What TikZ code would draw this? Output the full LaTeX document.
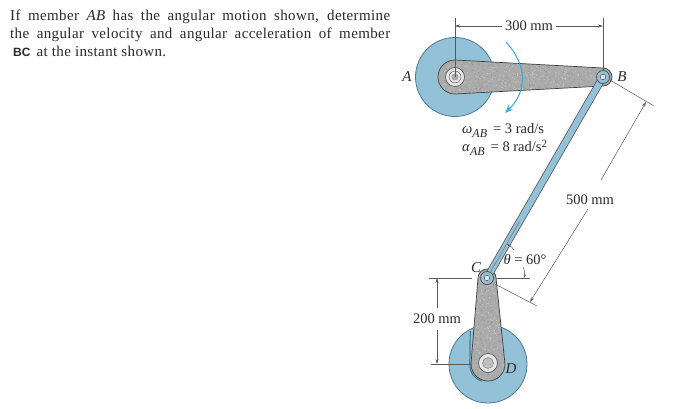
\documentclass[tikz,border=0pt]{standalone}
\usepackage{fontspec}
\setmainfont{Liberation Serif}
\newfontfamily\bcfont{Liberation Sans}
\newfontfamily\wideserif[LetterSpace=2.5]{Liberation Serif}
\usetikzlibrary{arrows.meta,calc}
\definecolor{diskblue}{HTML}{93C1D7}
\definecolor{diskedge}{HTML}{4A7C96}
\definecolor{armgray}{HTML}{ABABAB}
\definecolor{spin}{HTML}{35AEDB}
\definecolor{txt}{HTML}{2A2A2A}
\tikzset{
  disk/.style={fill=diskblue,draw=diskedge,line width=0.8pt},
  arm/.style={fill=armgray,draw=black!75,line width=0.7pt},
  dimline/.style={draw=black!65,line width=0.5pt},
  lab/.style={inner sep=0pt,text=txt,font=\fontsize{14.5}{17}\selectfont},
  para/.style={inner sep=0pt,anchor=base west,text=txt,font=\fontsize{15}{18}\wideserif\selectfont},
  pinring/.style={fill=black!10,draw=black!70,line width=0.6pt}
}
\newcommand{\subAB}{\raisebox{-4pt}{\fontsize{12}{12}\selectfont\itshape AB}}
\begin{document}
\begin{tikzpicture}[x=1pt,y=-1pt]
\useasboundingbox (0,0) rectangle (674,409);
\fill[white] (0,0) rectangle (674,409);
% paragraph
\node[para] (l1) at (10,21) {\makebox[380pt][s]{If member {\itshape AB} has the angular motion shown, determine}};
\node[para] (l2) at (10,39) {\makebox[380pt][s]{the angular velocity and angular acceleration of member}};
\node[para] (l3) at (13,57) {{\bcfont\bfseries\fontsize{12}{14}\selectfont BC}\hspace{6pt}at the instant shown.};
% disks
\node[circle,disk,minimum size=79pt,inner sep=0pt] (diskA) at (455,77) {};
\node[circle,disk,minimum size=78pt,inner sep=0pt] (diskD) at (488,364) {};
\draw[diskedge,line width=1.2pt] (470.2,331) -- (469.8,364) .. controls (469.8,372) and (474,379) .. (482,381);
% arm AB
\begin{scope}
\path[arm,draw=none] (455,60) arc[start angle=90,delta angle=180,radius=17pt] -- (603,86) arc[start angle=-90,delta angle=180,radius=9pt] -- cycle;
\clip (455,60) arc[start angle=90,delta angle=180,radius=17pt] -- (603,86) arc[start angle=-90,delta angle=180,radius=9pt] -- cycle;
\pgfmathsetseed{7}
\foreach \i in {1,...,500}{
  \pgfmathsetmacro{\px}{435+rnd*180}\pgfmathsetmacro{\py}{58+rnd*38}
  \fill[black!42] (\px,\py) circle[radius=0.5pt];
  \pgfmathsetmacro{\qx}{435+rnd*180}\pgfmathsetmacro{\qy}{58+rnd*38}
  \fill[black!20] (\qx,\qy) circle[radius=0.5pt];
}
\end{scope}
\draw[arm,fill=none] (455,60) arc[start angle=90,delta angle=180,radius=17pt] -- (603,86) arc[start angle=-90,delta angle=180,radius=9pt] -- cycle;
% arm CD
\begin{scope}
\path[arm,draw=none] (478,278) -- (471,364) arc[start angle=180,delta angle=180,radius=17pt] -- (496,278) arc[start angle=0,delta angle=180,radius=9pt] -- cycle;
\clip (478,278) -- (471,364) arc[start angle=180,delta angle=180,radius=17pt] -- (496,278) arc[start angle=0,delta angle=180,radius=9pt] -- cycle;
\pgfmathsetseed{11}
\foreach \i in {1,...,350}{
  \pgfmathsetmacro{\px}{468+rnd*40}\pgfmathsetmacro{\py}{268+rnd*116}
  \fill[black!42] (\px,\py) circle[radius=0.5pt];
  \pgfmathsetmacro{\qx}{468+rnd*40}\pgfmathsetmacro{\qy}{268+rnd*116}
  \fill[black!20] (\qx,\qy) circle[radius=0.5pt];
}
\end{scope}
\draw[arm,fill=none] (478,278) -- (471,364) arc[start angle=180,delta angle=180,radius=17pt] -- (496,278) arc[start angle=0,delta angle=180,radius=9pt] -- cycle;
% pins at A and D
\node[circle,pinring,minimum size=19pt,inner sep=0pt] (pinA) at (455,77) {};
\node[circle,fill=black!10,draw=black!70,minimum size=12pt,inner sep=0pt] (pinAi) at (455,77) {};
\node[circle,fill=black!35,minimum size=7pt,inner sep=0pt] (pinAc) at (455,77) {};
\node[circle,pinring,minimum size=19pt,inner sep=0pt] (pinD) at (488,363) {};
\node[circle,fill=black!25,draw=black!55,minimum size=11pt,inner sep=0pt] (pinDi) at (488,363) {};
% link BC
\coordinate (B) at (603,77);
\coordinate (C) at (487,278);
\draw[line width=7.6pt,draw=black!65] (B) -- (C);
\draw[line width=6pt,draw=diskblue] (B) -- (C);
\draw[line width=0.5pt,draw=black!55] ($(B)!0.72!(C)$) -- ($(B)!0.97!(C)$);
\node[circle,fill=diskblue,draw=black!70,line width=0.7pt,minimum size=13pt,inner sep=0pt] (pinB) at (B) {};
\node[circle,fill=black!10,draw=black!75,minimum size=5.5pt,inner sep=0pt] (pinBi) at (B) {};
\node[circle,fill=diskblue,draw=black!70,line width=0.7pt,minimum size=13pt,inner sep=0pt] (pinC) at (C) {};
\node[circle,fill=black!10,draw=black!75,minimum size=5.5pt,inner sep=0pt] (pinCi) at (C) {};
% spin arrow
\coordinate (s1) at (506,42);
\coordinate (s2) at (505,113);
\draw[draw=spin,line width=1pt,-{Stealth[length=8pt,width=6pt]}] (s1) .. controls (528,66) and (527,92) .. (s2);
% 300 mm
\coordinate (a1) at (455,18);\coordinate (a2) at (455,77);
\coordinate (b1) at (603,18);\coordinate (b2) at (603,70);
\draw[dimline] (a1) -- (a2);
\draw[dimline] (b1) -- (b2);
\node[lab,inner xsep=3pt] (d300) at (529,26) {300 mm};
\coordinate (a3) at (455,26);\coordinate (b3) at (603,26);
\draw[dimline,{Stealth[length=5pt,width=3pt]}-] (a3) -- (d300.west);
\draw[dimline,{Stealth[length=5pt,width=3pt]}-] (b3) -- (d300.east);
% 500 mm
\coordinate (e1) at (610,80);\coordinate (e2) at (654,106);
\coordinate (e3) at (495,284);\coordinate (e4) at (537,306);
\draw[dimline] (e1) -- (e2);
\draw[dimline] (e3) -- (e4);
\node[lab] (d500) at (590,200) {500 mm};
\coordinate (f1) at (646,102);\coordinate (f2) at (530,302);
\coordinate (f3) at (601,180);\coordinate (f4) at (588,209);
\draw[dimline,{Stealth[length=5pt,width=3pt]}-] (f1) -- (f3);
\draw[dimline,{Stealth[length=5pt,width=3pt]}-] (f2) -- (f4);
% 200 mm
\coordinate (g1) at (429,278);\coordinate (g2) at (472,278);
\coordinate (h1) at (431,364);\coordinate (h2) at (472,364);
\draw[dimline] (g1) -- (g2);
\draw[dimline] (h1) -- (h2);
\node[lab,inner ysep=6pt] (d200) at (437,319) {200 mm};
\coordinate (g3) at (437,278);\coordinate (h3) at (437,364);
\draw[dimline,{Stealth[length=5pt,width=3pt]}-] (g3) -- (d200.north -| g3);
\draw[dimline,{Stealth[length=5pt,width=3pt]}-] (h3) -- (d200.south -| h3);
% theta
\coordinate (t1) at (496,278);\coordinate (t2) at (530,278);
\draw[dimline] (t1) -- (t2);
\coordinate (t3) at (523,267);\coordinate (t4) at (524,278);
\coordinate (t5) at (514,250);\coordinate (t6) at (507,244);
\draw[dimline,-{Stealth[length=4pt,width=2.5pt]}] (t3) .. controls (525,271) and (525,274) .. (t4);
\draw[dimline,-{Stealth[length=4pt,width=2.5pt]}] (t5) .. controls (512,247) and (510,246) .. (t6);
\node[lab] (theta) at (525,259) {\textit{θ} = 60°};
% labels
\node[lab,font=\fontsize{15}{17}\selectfont\itshape] (lA) at (407,77) {A};
\node[lab,font=\fontsize{15}{17}\selectfont\itshape] (lB) at (622,77) {B};
\node[lab,font=\fontsize{15}{17}\selectfont\itshape] (lC) at (476,268) {C};
\node[lab,font=\fontsize{15}{17}\selectfont\itshape] (lD) at (511,369) {D};
\node[lab,anchor=base west] (omega) at (462,133) {\textit{ω}\subAB\hspace{6pt}= 3 rad/s};
\node[lab,anchor=base west] (alpha) at (462,151) {\textit{α}\subAB\hspace{6pt}= 8 rad/s\raisebox{4pt}{\fontsize{11}{11}\selectfont 2}};
\end{tikzpicture}
\end{document}
